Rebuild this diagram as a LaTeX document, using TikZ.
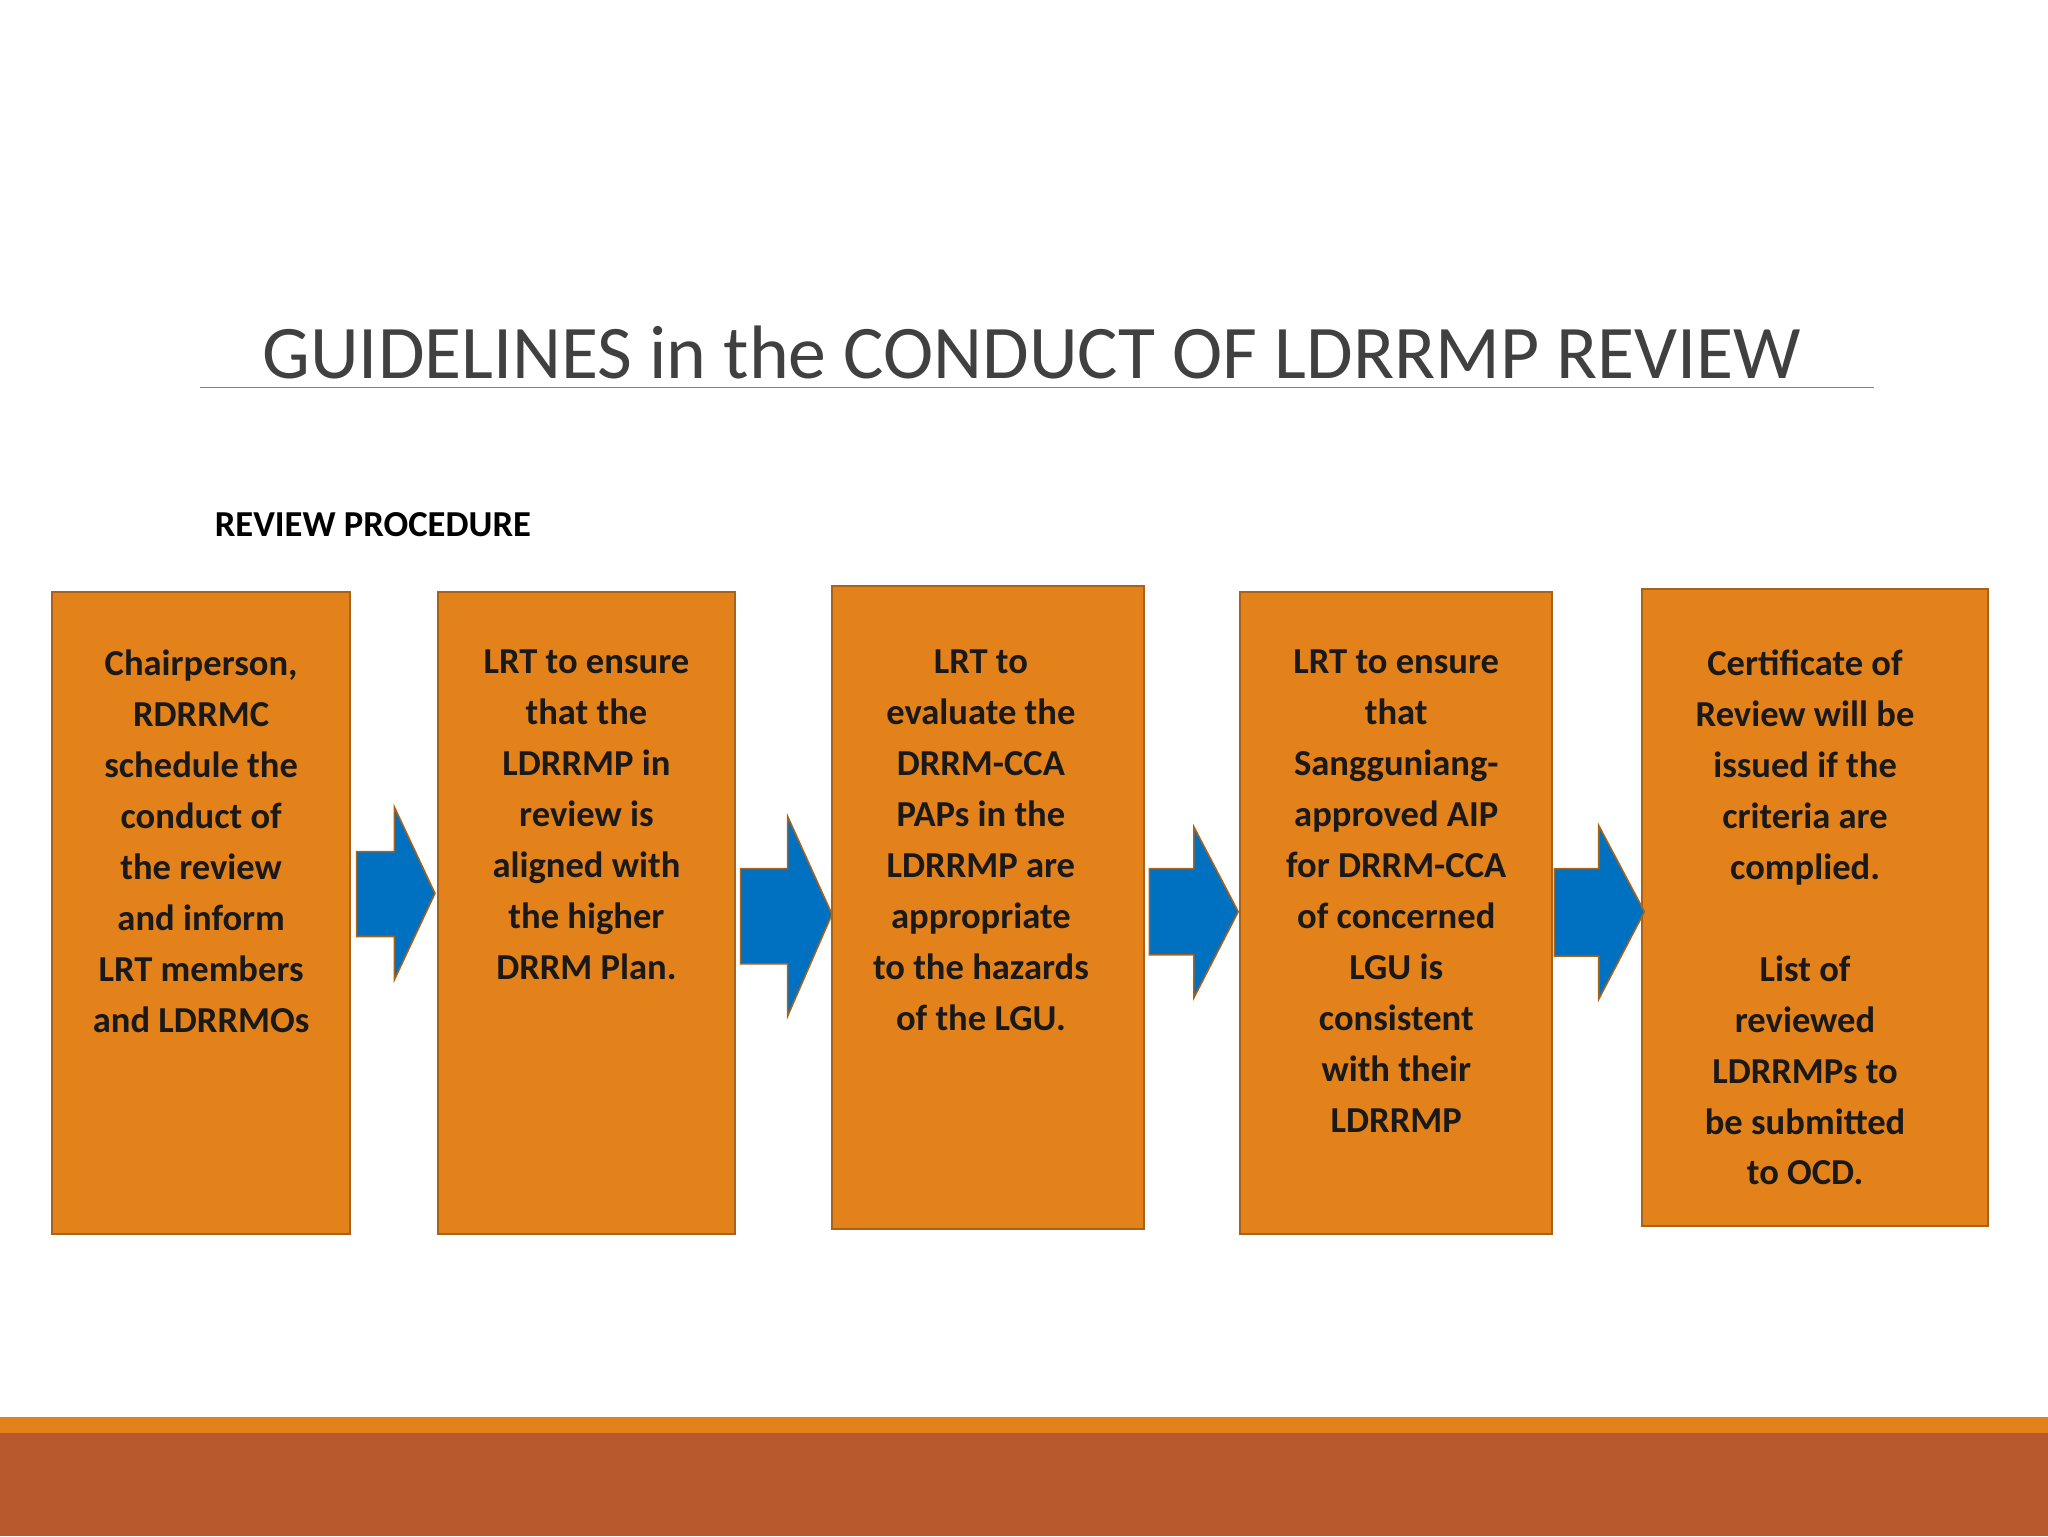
\documentclass[tikz,border=0pt]{standalone}
\usepackage{fontspec}
\setmainfont{Carlito}
\definecolor{org}{HTML}{E3821A}
\definecolor{orgd}{HTML}{A8621A}
\definecolor{blu}{HTML}{0070C0}
\definecolor{rust}{HTML}{B8582D}
\definecolor{ttl}{HTML}{404040}
\begin{document}
\begin{tikzpicture}[x=1pt,y=-1pt,
 box/.style={fill=org,draw=orgd,line width=1.5pt},
 txt/.style={anchor=north,align=center,font=\fontsize{28}{39}\selectfont\bfseries,text=black!90},
 arr/.style={fill=blu,draw=orgd,line width=1.2pt}]
\useasboundingbox (0,0) rectangle (1568,1176);
\fill[white] (0,0) rectangle (1568,1176);
\fill[org] (0,1085) rectangle (1568,1097);
\fill[rust] (0,1097) rectangle (1568,1176);
\node[font=\fontsize{58}{60}\selectfont,text=ttl] (title) at (790,270) {GUIDELINES in the CONDUCT OF LDRRMP REVIEW};
\draw[gray,line width=0.8pt] (153,297) -- (1435,297);
\node[anchor=west,font=\fontsize{28}{30}\selectfont\bfseries] (rp) at (161,402) {REVIEW PROCEDURE};
\draw[box] (40,453) rectangle (268,945);
\draw[box] (335,453) rectangle (563,945);
\draw[box] (637,449) rectangle (876,941);
\draw[box] (949,453) rectangle (1188,945);
\draw[box] (1257,451) rectangle (1522,939);
\node[txt] (t1) at (154,494) {Chairperson,\\RDRRMC\\schedule the\\conduct of\\the review\\and inform\\LRT members\\and LDRRMOs};
\node[txt] (t2) at (449,494) {LRT to ensure\\that the\\LDRRMP in\\review is\\aligned with\\the higher\\DRRM Plan.};
\node[txt] (t3) at (751,494) {LRT to\\evaluate the\\DRRM-CCA\\PAPs in the\\LDRRMP are\\appropriate\\to the hazards\\of the LGU.};
\node[txt] (t4) at (1069,494) {LRT to ensure\\that\\Sangguniang-\\approved AIP\\for DRRM-CCA\\of concerned\\LGU is\\consistent\\with their\\LDRRMP};
\node[txt] (t5) at (1382,494) {Certificate of\\Review will be\\issued if the\\criteria are\\complied.\\[39pt]List of\\reviewed\\LDRRMPs to\\be submitted\\to OCD.};
\draw[arr] (273,652) -- (302,652) -- (302,618) -- (333,684) -- (302,750) -- (302,717) -- (273,717) -- cycle;
\draw[arr] (567,665) -- (603,665) -- (603,625) -- (637,700) -- (603,778) -- (603,738) -- (567,738) -- cycle;
\draw[arr] (880,665) -- (914,665) -- (914,633) -- (948,698) -- (914,764) -- (914,731) -- (880,731) -- cycle;
\draw[arr] (1190,665) -- (1224,665) -- (1224,632) -- (1259,698) -- (1224,765) -- (1224,732) -- (1190,732) -- cycle;
\end{tikzpicture}
\end{document}
